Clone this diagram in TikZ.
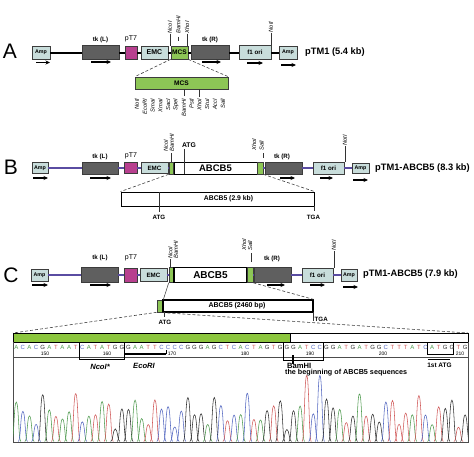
\documentclass[tikz,border=0pt]{standalone}
\usepackage{fontspec}
\setmainfont{Liberation Sans}
\usetikzlibrary{arrows.meta}
\definecolor{boxblue}{HTML}{C8DDDB}
\definecolor{tkgray}{HTML}{5F5F5F}
\definecolor{ptpink}{HTML}{B8408F}
\definecolor{mcsgreen}{HTML}{8DC656}
\definecolor{bargreen}{HTML}{8CC63E}
\definecolor{bbpurple}{HTML}{5A4CA2}
\definecolor{edgecol}{HTML}{3C3C3C}
\definecolor{baseA}{HTML}{4E9A4E}
\definecolor{baseC}{HTML}{5266C0}
\definecolor{baseG}{HTML}{2E2E2E}
\definecolor{baseT}{HTML}{D05858}
\begin{document}
\begin{tikzpicture}[x=1pt,y=-1pt,
  gbox/.style={draw=edgecol, line width=0.6pt, inner sep=0pt},
  bluebox/.style={gbox, fill=boxblue, font=\fontsize{6.2}{7}\selectfont\bfseries},
  ampbox/.style={gbox, fill=boxblue, font=\fontsize{5.3}{6}\selectfont\bfseries},
  tkbox/.style={gbox, fill=tkgray},
  ptbox/.style={gbox, fill=ptpink},
  grbox/.style={gbox, fill=mcsgreen, font=\fontsize{6.6}{7}\selectfont\bfseries},
  lab/.style={inner sep=0pt, font=\fontsize{6.2}{7}\selectfont\bfseries},
  ptlab/.style={inner sep=0pt, font=\fontsize{7}{8}\selectfont},
  enz/.style={inner sep=0pt, rotate=90, font=\fontsize{5.8}{6}\selectfont\itshape},
  dirarr/.style={-{Stealth[length=4.5pt,width=4pt]}, line width=1.1pt},
  bbA/.style={line width=2pt, black},
  bbB/.style={line width=1.6pt, bbpurple},
  tickline/.style={line width=0.5pt, black!80},
  dashcon/.style={dash pattern=on 3pt off 2pt, line width=0.6pt, black!75},
  ttl/.style={anchor=west, inner sep=0pt, font=\fontsize{9.3}{10}\selectfont\bfseries},
  plab/.style={inner sep=0pt, font=\fontsize{21}{21}\selectfont},
  seqlet/.style={inner sep=0pt, font=\fontsize{6}{6}\selectfont},
  numlab/.style={inner sep=0pt, font=\fontsize{5}{5}\selectfont},
  sitelab/.style={inner sep=0pt, font=\fontsize{7.6}{8}\selectfont\bfseries\itshape}
]
\useasboundingbox (0,0) rectangle (474,456);

% ================= Row A =================
\node[plab] (labA) at (10,51) {A};
\node[ampbox, minimum width=18, minimum height=13] (ampA1) at (41,52.5) {Amp};
\node[tkbox, minimum width=37, minimum height=14] (tkLA) at (100.5,52.5) {};
\node[ptbox, minimum width=12, minimum height=13] (ptA) at (131,52.5) {};
\node[bluebox, minimum width=27, minimum height=13, font=\fontsize{7}{8}\selectfont\bfseries] (emcA) at (154.5,52.5) {EMC};
\node[grbox, minimum width=17, minimum height=13] (mcsA) at (179.5,52.5) {MCS};
\node[tkbox, minimum width=38, minimum height=14] (tkRA) at (210,52.5) {};
\node[bluebox, minimum width=32, minimum height=14] (f1A) at (255,52.5) {f1 ori};
\node[ampbox, minimum width=18, minimum height=13] (ampA2) at (288,52.5) {Amp};
\draw[bbA] (ampA1) -- (tkLA) -- (ptA) -- (emcA) -- (mcsA) -- (tkRA) -- (f1A) -- (ampA2);
\node[ttl] (tA) at (305,52.5) {pTM1 (5.4 kb)};
\node[lab] (ltkLA) at (100.5,40) {tk (L)};
\node[ptlab] (lptA) at (131,38.5) {pT7};
\node[lab] (ltkRA) at (210,40) {tk (R)};
\node[enz, anchor=west] (ncoA) at (170,33.5) {NcoI};
\node[enz, anchor=west] (bamA) at (178.5,33.5) {BamHI};
\node[enz, anchor=west] (xhoA) at (187,33.5) {XhoI};
\node[enz, anchor=west] (notA) at (271,32.5) {NotI};
\draw[tickline] (ncoA.west) -- (ncoA.west |- mcsA.north);
\draw[tickline] (178.5,36.5) -- (178.5,40.5);
\draw[tickline] (xhoA.west) -- (xhoA.west |- mcsA.north);
\draw[tickline] (notA.west) -- (notA.west |- f1A.north);
\draw[dirarr] (36,62.5) -- (50,62.5);
\draw[dirarr] (91,62) -- (111,62);
\draw[dirarr] (202,62) -- (221,62);
\draw[dirarr] (247,63) -- (263,63);
\draw[dirarr] (281,65) -- (296,65);
% MCS expansion
\node[grbox, minimum width=93, minimum height=12] (mcsbig) at (181.5,83) {MCS};
\draw[dashcon] (mcsA.south west) -- (mcsbig.north west);
\draw[dashcon] (mcsA.south east) -- (mcsbig.north east);
\draw[tickline] (184,89) -- (184,95.5);
\draw[tickline] (199,89) -- (199,97);
\foreach \e [count=\k] in {NotI,EcoRI,SmaI,XmaI,SacI,SpeI,BamHI,PstI,XhoI,StuI,AccI,SalI}
  \node[enz, anchor=east] (m\k) at ({137+(\k-1)*7.8},98.5) {\e};

% ================= Row B =================
\node[plab] (labB) at (11,167) {B};
\node[ampbox, minimum width=16, minimum height=11] (ampB1) at (40,168) {Amp};
\node[tkbox, minimum width=36, minimum height=12] (tkLB) at (100,168) {};
\node[ptbox, minimum width=13, minimum height=11] (ptB) at (130.5,168) {};
\node[bluebox, minimum width=27, minimum height=11] (emcB) at (154.5,168) {EMC};
\node[grbox, minimum width=4, minimum height=12] (gB1) at (171,168) {};
\node[gbox, draw=black, line width=0.9pt, fill=white, minimum width=83, minimum height=12, font=\fontsize{9.5}{10}\selectfont\bfseries] (abcB) at (215.5,168) {ABCB5};
\node[grbox, minimum width=6, minimum height=12] (gB2) at (260,168) {};
\node[tkbox, minimum width=37, minimum height=12] (tkRB) at (283.5,168) {};
\node[bluebox, minimum width=31, minimum height=12] (f1B) at (328.5,168) {f1 ori};
\node[ampbox, minimum width=17, minimum height=10] (ampB2) at (360.5,168) {Amp};
\draw[bbB] (ampB1) -- (tkLB) -- (ptB) -- (emcB) -- (gB1);
\draw[bbB] (gB2) -- (tkRB) -- (f1B) -- (ampB2);
\node[ttl] (tB) at (375,168) {pTM1-ABCB5 (8.3 kb)};
\node[lab] (ltkLB) at (100,157) {tk (L)};
\node[ptlab] (lptB) at (131,155.5) {pT7};
\node[lab] (ltkRB) at (282,157) {tk (R)};
\node[lab, font=\fontsize{6.8}{7}\selectfont\bfseries] (atgB) at (189,145) {ATG};
\draw[tickline] (184.5,149) -- (184.5,174);
\node[enz, anchor=west] (ncoB) at (166,152) {NcoI};
\node[enz, anchor=west] (bamB) at (172,152) {BamHI};
\node[enz, anchor=west] (xhoB) at (254,151) {XhoI};
\node[enz, anchor=west] (salB) at (261.5,151) {SalI};
\node[enz, anchor=west] (notB) at (345,146) {NotI};
\draw[tickline] (171,153) -- (171,162);
\draw[tickline] (263,153) -- (263,158);
\draw[tickline] (notB.west) -- (notB.west |- f1B.north);
\draw[dirarr] (33,178) -- (48,178);
\draw[dirarr] (90,178) -- (111,178);
\draw[dirarr] (280,178) -- (295,178);
\draw[dirarr] (320,178) -- (333,178);
\draw[dirarr] (353,180) -- (368,180);
% B expansion
\node[draw=black, line width=0.9pt, fill=white, minimum width=193, minimum height=14, inner sep=0pt] (abcBig) at (217.5,199) {};
\node[lab, font=\fontsize{6.8}{7}\selectfont\bfseries] (abcBigT) at (228.5,199) {ABCB5 (2.9 kb)};
\draw[dashcon] (gB1.south west) -- (abcBig.north west);
\draw[dashcon] (gB2.south east) -- (abcBig.north east);
\draw[tickline] (159,192) -- (159,212);
\draw[tickline] (314,206) -- (314,211);
\node[lab] (atgB2) at (159,217.5) {ATG};
\node[lab] (tgaB) at (313.5,217.5) {TGA};

% ================= Row C =================
\node[plab] (labC) at (11,275) {C};
\node[ampbox, minimum width=17, minimum height=12] (ampC1) at (39.5,275) {Amp};
\node[tkbox, minimum width=37, minimum height=15] (tkLC) at (99.5,275) {};
\node[ptbox, minimum width=13, minimum height=14] (ptC) at (130.5,275) {};
\node[bluebox, minimum width=27, minimum height=13] (emcC) at (153.5,275) {EMC};
\node[grbox, minimum width=4, minimum height=15] (gC1) at (171,275) {};
\node[draw=black, line width=1.3pt, fill=white, minimum width=73, minimum height=15, inner sep=0pt, font=\fontsize{10}{10}\selectfont\bfseries] (abcC) at (210.5,275) {ABCB5};
\node[grbox, minimum width=6, minimum height=15] (gC2) at (250,275) {};
\node[tkbox, minimum width=37, minimum height=15] (tkRC) at (272.5,275) {};
\node[bluebox, minimum width=31, minimum height=14] (f1C) at (317.5,275) {f1 ori};
\node[ampbox, minimum width=16, minimum height=12] (ampC2) at (349,275) {Amp};
\draw[bbB] (ampC1) -- (tkLC) -- (ptC) -- (emcC) -- (gC1);
\draw[bbB] (gC2) -- (tkRC) -- (f1C) -- (ampC2);
\node[ttl] (tC) at (363,274.5) {pTM1-ABCB5 (7.9 kb)};
\node[lab] (ltkLC) at (100,258) {tk (L)};
\node[ptlab] (lptC) at (131,258) {pT7};
\node[lab] (ltkRC) at (272,259) {tk (R)};
\node[enz, anchor=west] (ncoC) at (170.5,259) {NcoI};
\node[enz, anchor=west] (bamC) at (176,259) {BamHI};
\node[enz, anchor=west] (xhoC) at (244,251) {XhoI};
\node[enz, anchor=west] (salC) at (250,251) {SalI};
\node[enz, anchor=west] (notC) at (334,251) {NotI};
\draw[tickline] (ncoC.west) -- (ncoC.west |- gC1.north);
\draw[tickline] (251,253) -- (251,262);
\draw[tickline] (notC.west) -- (notC.west |- f1C.north);
\draw[dirarr] (32,285) -- (48,285);
\draw[dirarr] (90,285) -- (111,285);
\draw[dirarr] (267,285) -- (285,285);
\draw[dirarr] (310,285) -- (325,285);
\draw[dirarr] (343,287) -- (358,287);
% C expansion
\node[grbox, minimum width=6, minimum height=12] (gSmall) at (160,306) {};
\node[draw=black, line width=1.2pt, fill=white, minimum width=150, minimum height=12, inner sep=0pt] (abcSmall) at (238,306) {};
\node[lab, font=\fontsize{7}{7}\selectfont\bfseries] (abcSmallT) at (237,306) {ABCB5 (2460 bp)};
\draw[tickline] (gC1.south west) -- (gSmall.north east);
\draw[dashcon] (gC2.south east) -- (abcSmall.north east);
\draw[tickline] (164,312) -- (164,317);
\node[lab] (atgC) at (165,322.5) {ATG};
\draw[tickline] (313,312) -- (313,321);
\node[lab, anchor=west] (tgaC) at (314.5,319.5) {TGA};

% ================= sequence panel =================
\coordinate (pTL) at (13,333);
\coordinate (pTR) at (468,333);
\draw[dashcon] (gSmall.south west) -- (pTL);
\draw[dashcon] (abcSmall.south west) -- (pTR);
\node[draw=black, line width=1.1pt, fill=bargreen, minimum width=277, minimum height=9, anchor=north west, inner sep=0pt] (gbar) at (13,333) {};
\node[draw=black, line width=1.1pt, fill=white, minimum width=178, minimum height=9, anchor=north west, inner sep=0pt] (wbar) at (290,333) {};
\draw[line width=0.6pt, black!70] (13,342) -- (13,442) -- (468,442) -- (468,342);
\draw[line width=0.5pt, black!70] (13,357.5) -- (468,357.5);
% site boxes
\draw[line width=0.7pt] (79,342) -- (79,359.5) -- (124,359.5) -- (124,342);
\draw[line width=0.7pt] (124,342) -- (124,354);
\draw[line width=1.4pt] (124,354) -- (166,354);
\draw[line width=0.7pt] (166,354) -- (166,350);
\draw[line width=0.7pt] (283,342) -- (283,360) -- (323,360) -- (323,342);
\draw[line width=1.6pt] (293,355) -- (293,363.5);
\draw[line width=0.7pt] (427,342) -- (427,354) -- (453,354) -- (453,342);
\draw[line width=1.6pt] (428,359.5) -- (450,359.5);
% numbers
\foreach \n/\px in {150/45,160/107,170/172,180/245,190/310,200/383,210/460}
  \node[numlab] (n\n) at (\px,353.5) {\n};
% labels
\node[sitelab] (ncoS) at (100,367) {NcoI*};
\node[sitelab] (ecoS) at (144,366) {EcoRI};
\node[sitelab, font=\fontsize{7.6}{8}\selectfont\bfseries, anchor=west] (bamS) at (287,366) {BamHI};
\node[inner sep=0pt, anchor=west, font=\fontsize{7.2}{8}\selectfont\bfseries] (begS) at (285,372.5) {the beginning of ABCB5 sequences};
\node[inner sep=0pt, font=\fontsize{6.5}{7}\selectfont\bfseries] (atgS) at (439.5,365) {1st ATG};
% sequence letters and chromatogram
\begin{scope}
\clip (13,300) rectangle (468,442);
\foreach \b [count=\i] in {A,C,A,C,G,A,T,A,A,T,C,A,T,A,T,G,G,G,A,A,T,T,C,C,C,C,G,G,G,A,G,C,T,C,A,C,T,A,G,T,G,G,G,A,T,C,C,G,G,A,T,G,A,T,G,G,C,T,T,T,A,T,C,A,T,G,G,T,G}{
  \pgfmathsetmacro\xx{13+6.6*(\i-0.5)}
  \pgfmathsetmacro\hh{(\i==45||\i==47) ? 66 : (30+11*sin(\i*83)+8*sin(\i*151+40))}
  \pgfmathsetmacro\yt{441.5-\hh}
  \node[seqlet, text=base\b] (s\i) at (\xx,347.5) {\b};
  \draw[base\b, line width=0.55pt] (\xx-4.6,441.5) .. controls (\xx-2.2,441.5) and (\xx-2.4,\yt) .. (\xx,\yt) .. controls (\xx+2.4,\yt) and (\xx+2.2,441.5) .. (\xx+4.6,441.5);
}
\end{scope}
\end{tikzpicture}
\end{document}
